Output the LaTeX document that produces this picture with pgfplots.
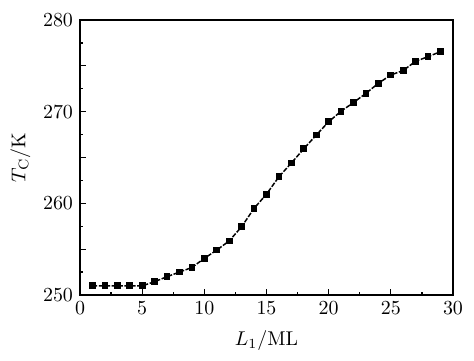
\documentclass[border=0pt]{standalone}
\usepackage{pgfplots}
\pgfplotsset{compat=1.18}
\begin{document}
\begin{tikzpicture}
\begin{axis}[
  width=186.5bp, height=137.5bp, scale only axis,
  xmin=0, xmax=30, ymin=250, ymax=280,
  xtick={0,5,...,30},
  ytick={250,255,...,280},
  yticklabels={250,,260,,270,,280},
  minor x tick num=1, minor y tick num=1,
  tick align=inside, tick pos=left,
  major tick length=3bp, minor tick length=1.6bp,
  axis line style={line width=0.75pt},
  every tick/.style={line width=0.6pt, black},
  xlabel={$L_1/\mathrm{ML}$},
  ylabel={$T_{\mathrm{C}}/\mathrm{K}$},
  xlabel style={at={(axis description cs:0.5,-0.165)}, anchor=center},
  ylabel style={at={(axis description cs:-0.16,0.5)}, anchor=center},
]
\addplot[black, line width=0.75pt, dash pattern=on 2.4bp off 0.8bp,
  mark=square*, mark size=1.3bp, mark options={solid}] coordinates {
(1,251.0) (2,251.0) (3,251.0) (4,251.0) (5,251.0)
(6,251.45) (7,252.0) (8,252.5) (9,253.0) (10,254.0)
(11,254.9) (12,255.9) (13,257.45) (14,259.45) (15,261.0)
(16,262.9) (17,264.4) (18,265.95) (19,267.45) (20,268.9)
(21,270.05) (22,271.0) (23,272.0) (24,273.1) (25,274.0)
(26,274.5) (27,275.5) (28,276.0) (29,276.55)
};
\end{axis}
\path ([xshift=-40bp,yshift=-33bp]current axis.south west) rectangle ([xshift=10.5bp,yshift=10bp]current axis.north east);
\end{tikzpicture}
\end{document}
